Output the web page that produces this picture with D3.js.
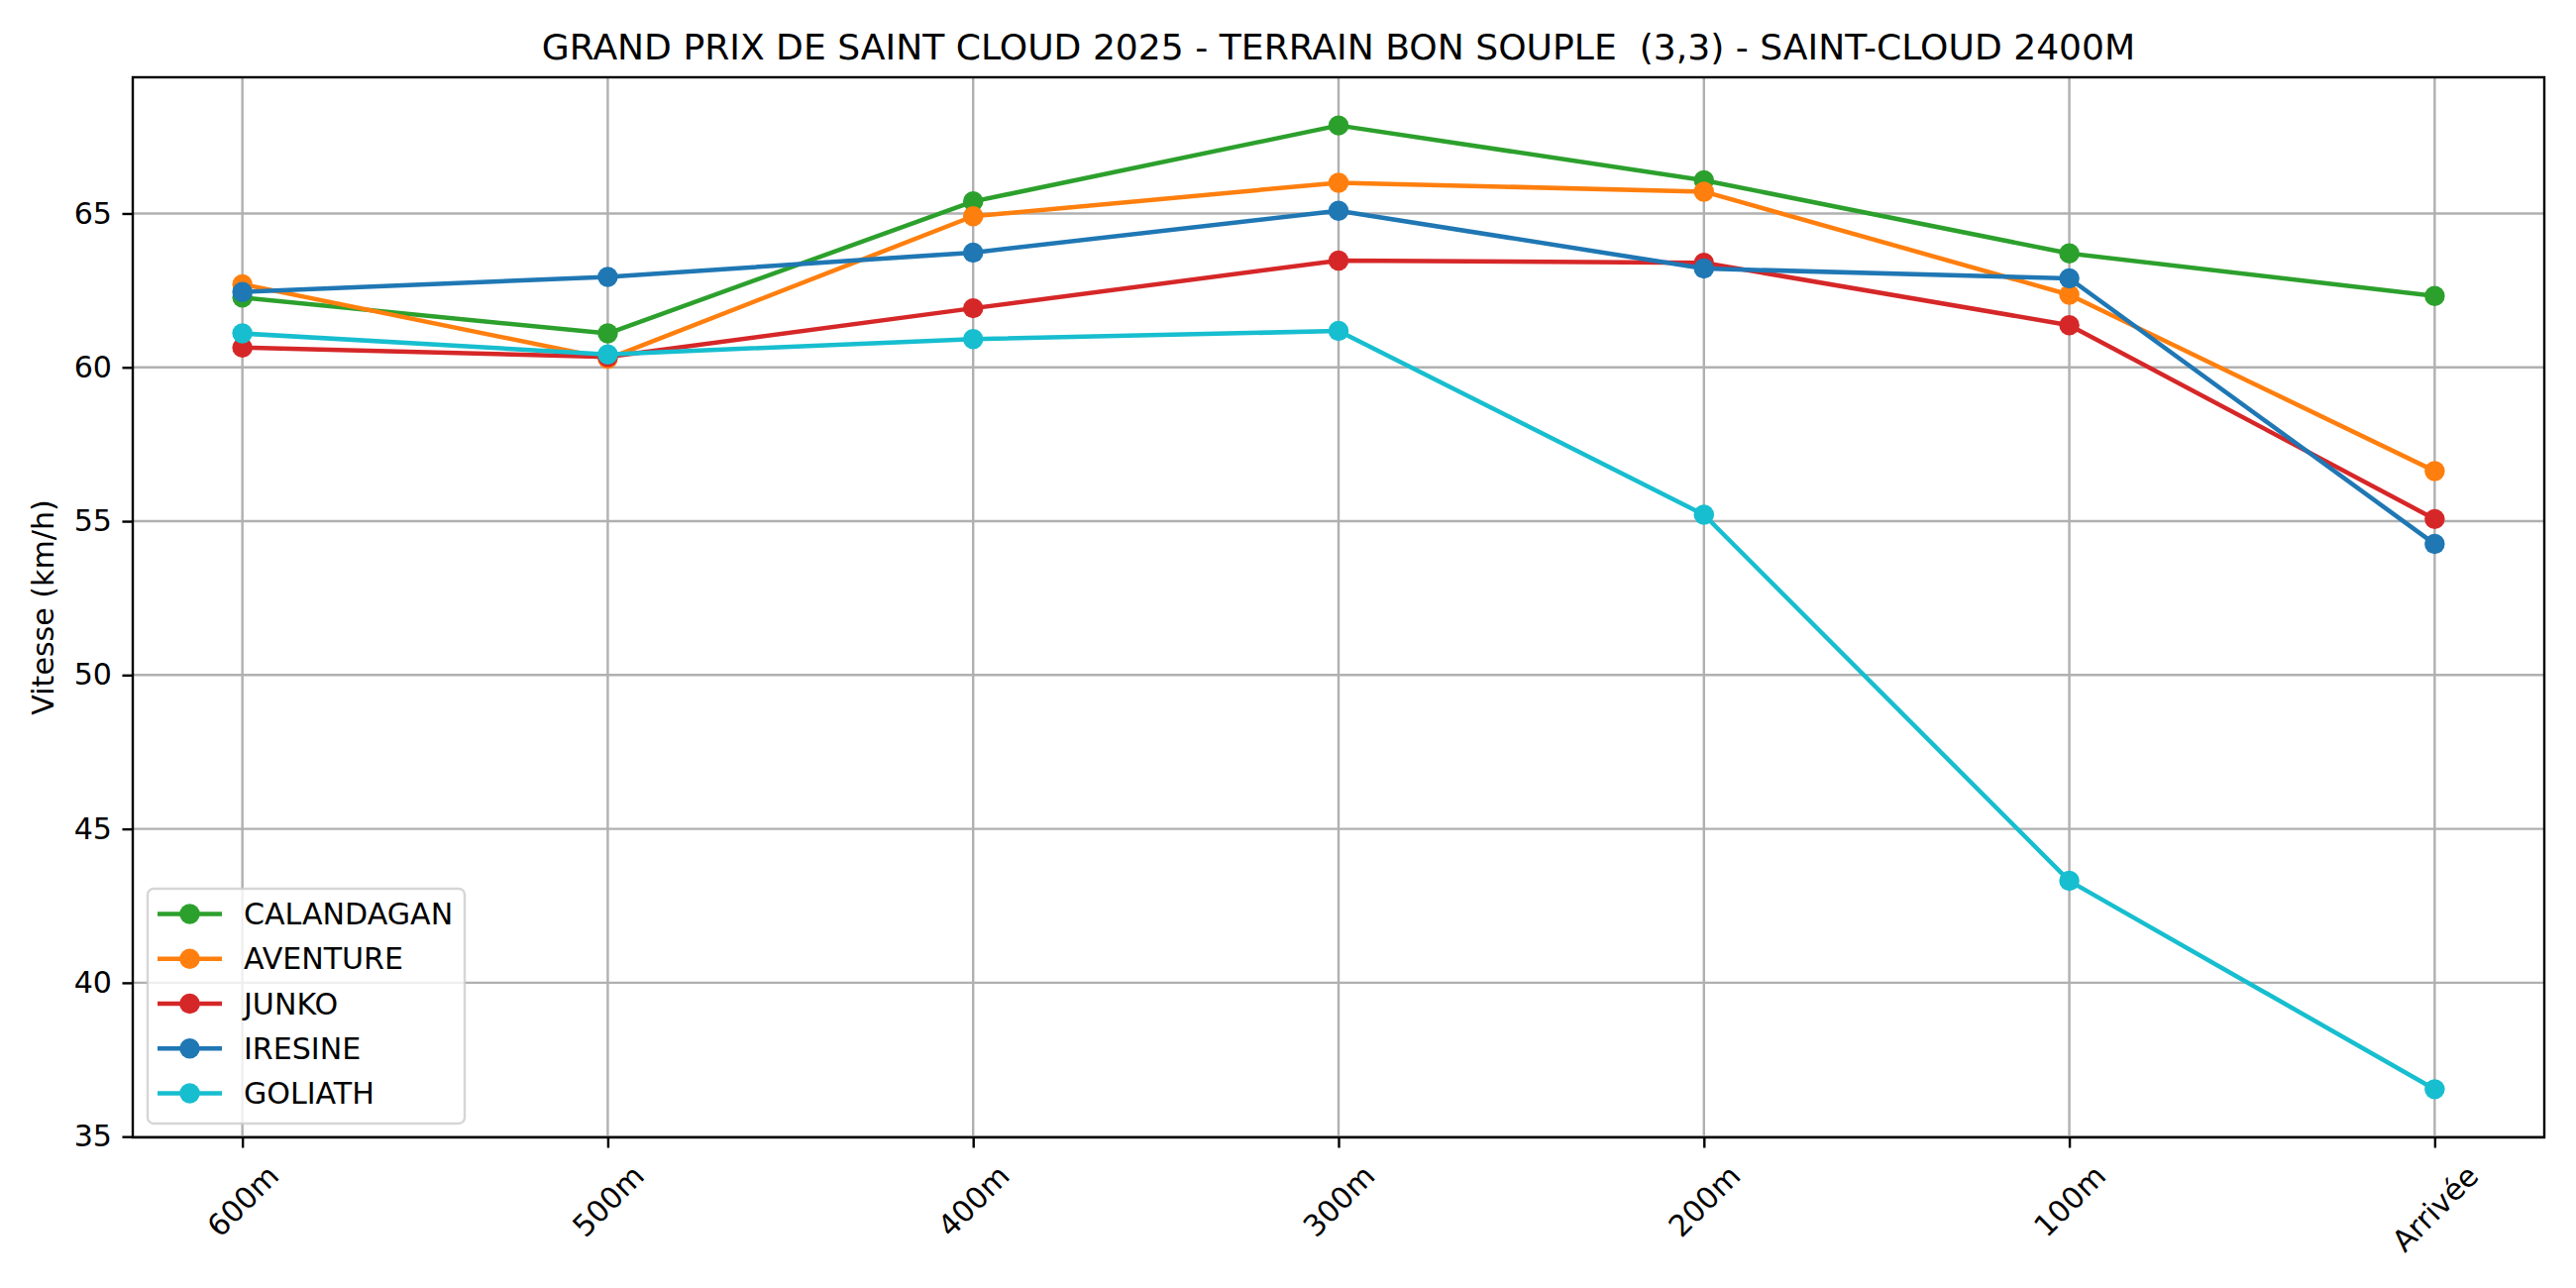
<!DOCTYPE html>
<html>
<head>
<meta charset="utf-8">
<script src="https://cdn.jsdelivr.net/npm/d3@7"></script>
<style>
  body { margin: 0; background: #fff; }
  text { font-family: "DejaVu Sans", sans-serif; fill: #000; }
</style>
</head>
<body>
<div id="chart"></div>
<script>
var W = 2600, H = 1300;
var mLeft = 134, mRight = 2568, mTop = 78, mBottom = 1148;

var title = "GRAND PRIX DE SAINT CLOUD 2025 - TERRAIN BON SOUPLE  (3,3) - SAINT-CLOUD 2400M";
var yTitle = "Vitesse (km/h)";
var categories = ["600m", "500m", "400m", "300m", "200m", "100m", "Arrivée"];
var yTicks = [35, 40, 45, 50, 55, 60, 65];

var horses = ["CALANDAGAN", "AVENTURE", "JUNKO", "IRESINE", "GOLIATH"];
var colors = ["#2ca02c", "#ff7f0e", "#d62728", "#1f77b4", "#17becf"];

var calandagan = [62.27, 61.10, 65.39, 67.86, 66.08, 63.70, 62.32];
var aventure   = [62.70, 60.28, 64.91, 66.00, 65.71, 62.36, 56.63];
var junko      = [60.64, 60.34, 61.92, 63.47, 63.40, 61.37, 55.07];
var iresine    = [62.45, 62.94, 63.73, 65.09, 63.21, 62.89, 54.26];
var goliath    = [61.10, 60.42, 60.92, 61.18, 55.21, 43.31, 36.54];
var seriesValues = [calandagan, aventure, junko, iresine, goliath];

var px = (2600 / 12) / 72; // points to pixels (12in wide figure)

var svg = d3.select("#chart").append("svg")
  .attr("width", W).attr("height", H);

svg.append("rect").attr("width", W).attr("height", H).attr("fill", "#fff");

// scales with matplotlib-like 5% margins
var x = d3.scaleLinear()
  .domain([-0.3, categories.length - 1 + 0.3])
  .range([mLeft, mRight]);

var all = d3.merge(seriesValues);
var ext = d3.extent(all);
var pad = (ext[1] - ext[0]) * 0.05;
var y = d3.scaleLinear()
  .domain([ext[0] - pad, ext[1] + pad])
  .range([mBottom, mTop]);

// grid
var grid = svg.append("g");
grid.selectAll("line.gx").data(categories).enter().append("line")
  .attr("x1", function(d, i) { return x(i); }).attr("x2", function(d, i) { return x(i); })
  .attr("y1", mTop).attr("y2", mBottom)
  .attr("stroke", "#b0b0b0").attr("stroke-width", 0.8 * px);
grid.selectAll("line.gy").data(yTicks).enter().append("line")
  .attr("x1", mLeft).attr("x2", mRight)
  .attr("y1", function(d) { return y(d); }).attr("y2", function(d) { return y(d); })
  .attr("stroke", "#b0b0b0").attr("stroke-width", 0.8 * px);

// lines + markers
var line = d3.line()
  .x(function(d, i) { return x(i); })
  .y(function(d) { return y(d); });

seriesValues.forEach(function(vals, k) {
  var g = svg.append("g");
  g.append("path").datum(vals)
    .attr("d", line)
    .attr("fill", "none")
    .attr("stroke", colors[k])
    .attr("stroke-width", 1.5 * px)
    .attr("stroke-linejoin", "round")
    .attr("stroke-linecap", "square");
  g.selectAll("circle").data(vals).enter().append("circle")
    .attr("cx", function(d, i) { return x(i); })
    .attr("cy", function(d) { return y(d); })
    .attr("r", 3.4 * px)
    .attr("fill", colors[k]);
});

// frame
svg.append("rect")
  .attr("x", mLeft).attr("y", mTop)
  .attr("width", mRight - mLeft).attr("height", mBottom - mTop)
  .attr("fill", "none").attr("stroke", "#000").attr("stroke-width", 0.8 * px);

// y axis
var yAxis = d3.axisLeft(y).tickValues(yTicks)
  .tickSize(3.5 * px).tickPadding(3.5 * px);
var ya = svg.append("g").attr("transform", "translate(" + mLeft + ",0)").call(yAxis);
ya.select(".domain").remove();
ya.selectAll(".tick line").attr("stroke", "#000").attr("stroke-width", 0.8 * px);
ya.selectAll(".tick text")
  .attr("font-size", 10 * px)
  .style("font-family", "DejaVu Sans");

// x axis
var xAxis = d3.axisBottom(x).tickValues(d3.range(categories.length))
  .tickSize(3.5 * px).tickFormat(function(i) { return categories[i]; });
var xa = svg.append("g").attr("transform", "translate(0," + mBottom + ")").call(xAxis);
xa.select(".domain").remove();
xa.selectAll(".tick line").attr("stroke", "#000").attr("stroke-width", 0.8 * px);
xa.selectAll(".tick text")
  .attr("font-size", 10 * px)
  .style("font-family", "DejaVu Sans")
  .attr("text-anchor", "middle")
  .attr("dominant-baseline", "central")
  .attr("y", 0)
  .attr("dy", null)
  .each(function() {
    var t = d3.select(this);
    var w = this.getComputedTextLength();
    var h = 10 * px * 1.164;
    var hh = (w + h) * Math.SQRT1_2;
    var cy = 7 * px + hh / 2;
    t.attr("transform", "translate(0," + cy + ") rotate(-45)");
  });

// title
svg.append("text")
  .attr("x", (mLeft + mRight) / 2).attr("y", mTop - 6 * px)
  .attr("text-anchor", "middle")
  .attr("font-size", 12 * px)
  .attr("xml:space", "preserve")
  .style("white-space", "pre")
  .text(title);

// y label
svg.append("text")
  .attr("transform", "translate(53.5," + (mTop + mBottom) / 2 + ") rotate(-90)")
  .attr("text-anchor", "middle")
  .attr("font-size", 10 * px)
  .text(yTitle);

// legend
var lg = svg.append("g");
lg.append("rect")
  .attr("x", 149).attr("y", 897).attr("width", 320).attr("height", 237)
  .attr("rx", 6).attr("ry", 6)
  .attr("fill", "#fff").attr("fill-opacity", 0.8)
  .attr("stroke", "#cccccc").attr("stroke-opacity", 0.8)
  .attr("stroke-width", 0.8 * px);

var items = lg.selectAll("g.item").data(horses).enter().append("g")
  .attr("transform", function(d, i) { return "translate(0," + (922.4 + i * 45.3) + ")"; });
items.append("line")
  .attr("x1", 159).attr("x2", 224).attr("y1", 0).attr("y2", 0)
  .attr("stroke", function(d, i) { return colors[i]; })
  .attr("stroke-width", 1.5 * px);
items.append("circle")
  .attr("cx", 191.5).attr("cy", 0).attr("r", 3.4 * px)
  .attr("fill", function(d, i) { return colors[i]; });
items.append("text")
  .attr("x", 246).attr("y", 0)
  .attr("dominant-baseline", "central")
  .attr("font-size", 10 * px)
  .text(function(d) { return d; });
</script>
</body>
</html>
